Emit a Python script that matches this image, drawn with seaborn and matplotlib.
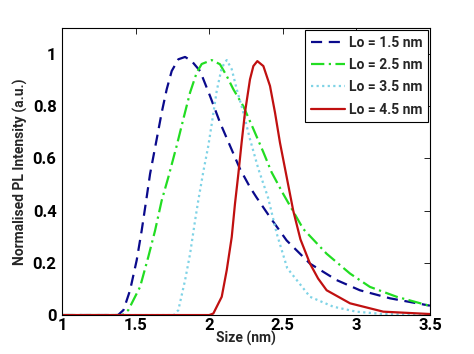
import matplotlib
matplotlib.use("Agg")
import matplotlib.pyplot as plt
import seaborn as sns
import pandas as pd

labels = ["Lo = 1.5 nm", "Lo = 2.5 nm", "Lo = 3.5 nm", "Lo = 4.5 nm"]

x_15 = [1.0, 1.38, 1.417, 1.462, 1.507, 1.541, 1.575, 1.598, 1.643, 1.677, 1.711, 1.745, 1.79, 1.836, 1.881, 1.938,
        2.005, 2.073, 2.141, 2.209, 2.277, 2.32, 2.413, 2.526, 2.685, 2.866, 3.024, 3.23, 3.5]
y_15 = [0.0, 0.0, 0.019, 0.095, 0.21, 0.324, 0.452, 0.541, 0.674, 0.776, 0.865, 0.935, 0.98, 0.989, 0.973, 0.935,
        0.84, 0.738, 0.649, 0.56, 0.49, 0.452, 0.375, 0.286, 0.197, 0.134, 0.095, 0.064, 0.036]

x_25 = [1.0, 1.41, 1.45, 1.53, 1.586, 1.632, 1.677, 1.722, 1.779, 1.824, 1.87, 1.915, 1.949, 2.017, 2.073, 2.119,
        2.164, 2.232, 2.3, 2.368, 2.424, 2.503, 2.639, 2.798, 2.957, 3.092, 3.274, 3.5]
y_25 = [0.0, 0.0, 0.019, 0.108, 0.223, 0.324, 0.439, 0.528, 0.649, 0.751, 0.853, 0.929, 0.962, 0.977, 0.961, 0.916,
        0.865, 0.80, 0.713, 0.624, 0.547, 0.464, 0.33, 0.235, 0.159, 0.108, 0.07, 0.035]

x_35 = [1.0, 1.76, 1.79, 1.836, 1.87, 1.904, 1.926, 1.96, 1.994, 2.017, 2.051, 2.085, 2.119, 2.153, 2.187, 2.232,
        2.277, 2.334, 2.40, 2.46, 2.53, 2.685, 2.843, 3.0, 3.18, 3.5]
y_35 = [0.0, 0.0, 0.019, 0.134, 0.235, 0.363, 0.44, 0.55, 0.649, 0.732, 0.859, 0.948, 0.977, 0.942, 0.865, 0.776,
        0.674, 0.56, 0.45, 0.31, 0.18, 0.07, 0.032, 0.013, 0.004, 0.0]

x_45 = [1.0, 2.0, 2.028, 2.085, 2.119, 2.153, 2.175, 2.198, 2.22, 2.243, 2.277, 2.3, 2.327, 2.368, 2.413, 2.447,
        2.481, 2.526, 2.571, 2.62, 2.685, 2.74, 2.798, 2.957, 3.183, 3.5]
y_45 = [0.0, 0.0, 0.006, 0.07, 0.172, 0.299, 0.426, 0.541, 0.66, 0.776, 0.903, 0.954, 0.973, 0.954, 0.878, 0.776,
        0.66, 0.53, 0.40, 0.29, 0.197, 0.14, 0.095, 0.045, 0.013, 0.004]

xs = [x_15, x_25, x_35, x_45]
ys = [y_15, y_25, y_35, y_45]
colors = ["#0a0a8c", "#22dd22", "#7fd3e6", "#c01010"]
styles = [(0, (5, 3)), (0, (6, 2, 1, 2)), (0, (1, 1.5)), "-"]

sns.set_style("white")
plt.rcParams["font.family"] = ["Roboto", "DejaVu Sans"]
plt.rcParams["font.weight"] = "bold"
plt.rcParams["axes.labelweight"] = "bold"

fig = plt.figure(figsize=(4.74, 3.54), dpi=100)
ax = fig.add_axes([0.131, 0.110, 0.776, 0.811])

for x, y, lab, c, ls in zip(xs, ys, labels, colors, styles):
    df = pd.DataFrame({"x": x, "y": y})
    sns.lineplot(data=df, x="x", y="y", ax=ax, color=c, linestyle=ls, linewidth=1.6,
                 label=lab, sort=False, estimator=None)

ax.set_xlim(1, 3.5)
ax.set_ylim(0, 1.1)
ax.set_xticks([1, 1.5, 2, 2.5, 3, 3.5])
ax.set_xticklabels(["1", "1.5", "2", "2.5", "3", "3.5"])
ax.set_yticks([0, 0.2, 0.4, 0.6, 0.8, 1])
ax.set_yticklabels(["0", "0.2", "0.4", "0.6", "0.8", "1"])
ax.tick_params(direction="in", length=4, width=0.6, top=True, right=True, labelsize=12, colors="black")
ax.tick_params(axis="x", pad=2)
ax.tick_params(axis="y", pad=4)
for sp in ax.spines.values():
    sp.set_color("black")
    sp.set_linewidth(0.8)
ax.set_xlabel("Size (nm)", fontsize=10, labelpad=-1)
ax.set_ylabel("Normalised PL Intensity (a.u.)", fontsize=10, labelpad=3)

leg = ax.legend(loc="upper right", fontsize=10, frameon=True, fancybox=False, framealpha=1,
                edgecolor="black", borderaxespad=0.15, handlelength=2.5, handletextpad=0.25,
                labelspacing=0.6, borderpad=0.4)
leg.get_frame().set_linewidth(0.8)

fig.savefig("out.png", dpi=100)
